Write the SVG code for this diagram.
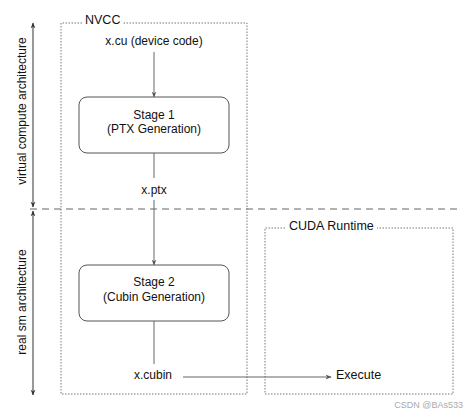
<svg xmlns="http://www.w3.org/2000/svg" width="474" height="414" viewBox="0 0 474 414">
<defs>
<marker id="ah" viewBox="0 0 10 10" refX="9" refY="5" markerWidth="6" markerHeight="6" orient="auto" markerUnits="userSpaceOnUse">
<path d="M0,1 L10,5 L0,9 L3,5 Z" fill="#555"/>
</marker>
<marker id="bar" viewBox="0 0 10 10" refX="9" refY="5" markerWidth="6" markerHeight="6" orient="auto-start-reverse" markerUnits="userSpaceOnUse">
<path d="M0,1 L10,5 L0,9 L3,5 Z" fill="#333"/>
</marker>
</defs>
<style>
text{font-family:"Liberation Sans",Arial,sans-serif;fill:#111;}
.lbl{font-size:12px;text-anchor:middle;}
.dot{fill:none;stroke:#777;stroke-width:1;stroke-dasharray:1.5 1.5;}
.box{fill:#fff;stroke:#555;stroke-width:1;}
.con{fill:none;stroke:#666;stroke-width:1;}
</style>
<rect width="474" height="414" fill="#fff"/>
<g id="nvcc">
<path class="dot" d="M82,23 L61,23 L61,394 L247,394 L247,23 L122,23"/>
<text x="85" y="24" font-size="12.5">NVCC</text>
</g>
<g id="cuda-runtime">
<path class="dot" d="M285,228 L265,228 L265,394 L453,394 L453,228 L377,228"/>
<text x="289" y="230" font-size="12.5">CUDA Runtime</text>
</g>
<g id="divider">
<line x1="30" y1="209" x2="462" y2="209" stroke="#666" stroke-width="1" stroke-dasharray="7 5"/>
</g>
<g id="axis-virtual">
<line x1="33" y1="23" x2="33" y2="207" stroke="#333" stroke-width="1" marker-start="url(#bar)" marker-end="url(#bar)"/>
<text transform="translate(26,111) rotate(-90)" class="lbl">virtual compute architecture</text>
</g>
<g id="axis-real">
<line x1="33" y1="211" x2="33" y2="395" stroke="#333" stroke-width="1" marker-start="url(#bar)" marker-end="url(#bar)"/>
<text transform="translate(26,302) rotate(-90)" class="lbl">real sm architecture</text>
</g>
<g id="xcu"><text x="154" y="45" class="lbl">x.cu (device code)</text></g>
<g id="stage1">
<rect class="box" x="79" y="97" width="150" height="56" rx="8"/>
<text x="154" y="119" class="lbl">Stage 1</text>
<text x="154" y="133" class="lbl">(PTX Generation)</text>
</g>
<g id="xptx"><text x="154" y="194" class="lbl">x.ptx</text></g>
<g id="stage2">
<rect class="box" x="79" y="265" width="150" height="56" rx="8"/>
<text x="154" y="286" class="lbl">Stage 2</text>
<text x="154" y="301" class="lbl">(Cubin Generation)</text>
</g>
<g id="xcubin"><text x="153" y="379" class="lbl">x.cubin</text></g>
<g id="execute"><text x="336" y="379" font-size="12.5">Execute</text></g>
<g id="connectors">
<line class="con" x1="154" y1="52" x2="154" y2="97" marker-end="url(#ah)"/>
<line class="con" x1="154" y1="153" x2="154" y2="178"/>
<line class="con" x1="154" y1="200" x2="154" y2="265" marker-end="url(#ah)"/>
<line class="con" x1="154" y1="321" x2="154" y2="364"/>
<line class="con" x1="183" y1="377" x2="331" y2="377" marker-end="url(#ah)"/>
</g>
<text x="463" y="408" font-size="9" text-anchor="end" style="fill:#aaa">CSDN @BAs533</text>
</svg>
